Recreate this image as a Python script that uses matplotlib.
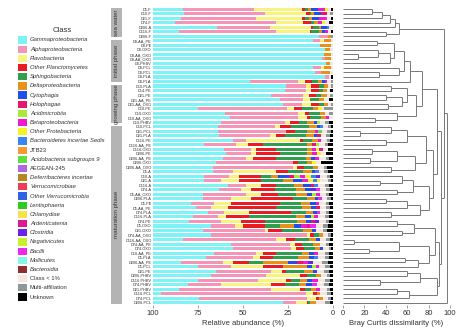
import matplotlib.pyplot as plt
from matplotlib.patches import Rectangle

plt.rcParams['font.family'] = ['Liberation Sans', 'DejaVu Sans']

# sample names, top to bottom
samples = ['D5-F', 'D10-F', 'D21-F', 'D74-F', 'D206-A', 'D116-F', 'D206-F',
           'D0-AA_PE', 'D0-PE', 'D3-OXO', 'D3-AA_OXO', 'D0-AA_OXO', 'D0-PHBV', 'D0-PCL',
           'D3-PCL', 'D3-PLA', 'D0-PLA',
           'D10-PLA', 'D14-PE', 'D21-PE', 'D21-AA_PE', 'D21-AA_OXO', 'D10-PE', 'D10-OXO',
           'D10-AA_OXO', 'D10-PHBV',
           'D10-PCL', 'D21-PCL', 'D21-PLA', 'D116-PE', 'D116-AA_PE', 'D116-OXO', 'D206-PE',
           'D206-AA_PE', 'D206-OXO', 'D206-AA_OXO', 'D5-A', 'D10-A', 'D21-A', 'D116-A',
           'D74-A', 'D5-AA_OXO', 'D206-PLA', 'D5-PE', 'D5-AA_PE', 'D74-PLA', 'D116-PLA',
           'D74-PE', 'D5-OXO', 'D21-OXO', 'D74-AA_OXO', 'D116-AA_OXO', 'D74-AA_PE', 'D74-OXO',
           'D10-AA_PE', 'D5-PLA', 'D206-AA_PE', 'D5-PCL', 'D21-PE', 'D206-PHBV', 'D116-PHBV',
           'D74-PHBV', 'D21-PHBV', 'D116-PCL', 'D74-PCL', 'D206-PCL']

phases = ['sea water', 'initial phase', 'growing phase', 'maturation phase']
phase_first = [0, 7, 17, 26]
phase_last = [6, 16, 25, 65]

# relative abundance (%) of the main classes, one value per sample
gamma = [16.4, 17.3, 15.5, 12.3, 35.6, 14.5, 92, 89, 92.7, 95.5, 95, 94, 96, 89, 90, 95.5,
         54, 74, 73.6, 65.8, 70.4, 72.3, 24.8, 40, 42.5, 37.8, 36, 36, 36.9, 44.3,
         28.5, 39.7, 40.6, 38.7, 35, 33.1, 33.1, 28.5, 28.5, 41.5, 36.9, 27.6, 27.6, 21, 23.8,
         30.4, 22, 20.1, 32.2, 27.6, 32.2, 16.4, 43.4, 44.3, 34.1, 29.4, 15.5, 24.8, 35, 32.2,
         24.8, 19.2, 14.5, 4.3, 25.7, 72.3]
alpha = [39.6, 44.7, 41.9, 55.9, 29.6, 53.7, 5, 4, 0, 0, 0, 1.5, 0, 4.5, 3.5, 2.5,
         26.6, 11, 11.4, 17.6, 13, 10.7, 49.9, 40.6, 38.1, 35.4, 31.6, 38.1, 27.9, 7.5,
         17.7, 14.9, 14, 13.1, 42.8, 44.7, 11.2, 14, 9.3, 10.3, 12.1, 24.2, 15.8, 13.1, 8.4,
         9.3, 14, 17.7, 13.1, 34.4, 53.1, 52.2, 32.6, 32.6, 23.3, 26.1, 23.2, 18.6, 30.8, 30.8,
         33.5, 18.6, 51.3, 80.6, 59.6, 7.4]
flavo = [27, 23, 25.1, 15.3, 22.8, 18.8, 0, 2, 0, 0, 0, 0, 0, 1.5, 0, 0,
         3.8, 3, 3, 3, 4, 5, 3.7, 3.9, 4.7, 2.8, 2.8, 0, 3.8, 29.8,
         6.5, 2.8, 2.8, 3.7, 0, 2, 24.3, 5.5, 10.2, 8.4, 5.6, 8.4, 11.2, 9.3, 9.3,
         13.9, 4.6, 11.2, 4.6, 1.9, 2, 5.5, 2.8, 2.8, 3.7, 3.7, 5.6, 17.7, 5.6, 18.6,
         15.8, 28, 15.8, 4, 5, 5.6]
planct = [1.5, 2, 1.9, 4, 1, 1, 0, 0, 0, 0, 0, 0, 0, 0, 0, 0,
          4, 4, 4, 4, 0, 4, 4.6, 2, 2, 5, 6.5, 4.7, 4.6, 1.8,
          8.4, 11.2, 13, 13.1, 2.8, 4, 6.5, 12.2, 12, 8.4, 13, 9.3, 23.2, 27, 27.1,
          23.3, 13, 13, 12.1, 7.5, 2, 4.7, 4.2, 4.3, 7.5, 7.5, 9.3, 11.2, 2.7, 4,
          2.8, 7.4, 3, 2, 2, 1]
sphingo = [1.5, 1, 2, 2, 3, 4, 0, 0, 0, 0, 0, 0, 0, 0, 0, 0,
           3, 3, 2.5, 3, 5, 3, 5.8, 6, 6, 4.3, 10, 7, 12, 5,
           24.2, 16.7, 14.9, 16.4, 4.7, 5, 8, 5.6, 12, 10, 12, 10, 8, 12, 14,
           8, 26.1, 18, 8.4, 12, 3, 8, 6, 6, 13.9, 14, 7.5, 0, 10, 5,
           4.7, 8, 3, 0, 0, 1]
delta = [1.5, 1.5, 2, 2, 1.5, 2, 2, 4, 6.3, 3, 4, 3.5, 2.5, 4, 5, 0,
         2.5, 2, 2, 3, 2.5, 2, 3, 3, 3, 4, 4, 4, 4, 3,
         3, 3, 3, 3, 3, 3, 5, 3.7, 6, 5, 5, 6, 4, 5, 5,
         4, 5, 5, 8, 5, 2, 4, 4, 3, 4, 6, 14, 13, 5, 3,
         4, 4, 3, 2, 2, 3]
minor = [2, 2, 2, 2.5, 2, 2, 0, 1, 1, 1.5, 1, 1, 1.5, 1, 1.5, 1,
         2, 2, 2, 2, 3, 2, 1.2, 2.5, 2.2, 3, 3, 3, 3, 3,
         3, 3, 3, 4, 3, 3, 3, 4, 4, 4, 3.5, 3.5, 3, 3.5, 3.5,
         3, 4, 4, 4, 4, 3, 3.5, 3, 3, 4, 4, 5, 3.5, 4, 3,
         4, 4, 4, 4, 3, 5]
multi = [0, 1.5, 0, 0, 0, 0, 1, 0, 0, 0, 0, 0, 0, 0, 0, 0,
         1.1, 1, 0, 1.6, 0, 1, 5, 2, 0, 2, 1.5, 2, 2, 2,
         2, 0, 0, 2, 0, 2, 2, 2, 2, 2, 2, 2, 2, 2, 2,
         2, 2, 2, 3, 2, 1.5, 2, 2, 1.5, 2, 2, 3, 2.5, 2.5, 2,
         2.5, 2.5, 2, 2, 1.5, 3]
unknown = [1, 0, 1.1, 2, 0, 1, 0, 0, 0, 0, 0, 0, 0, 0, 0, 1,
           0, 0, 1.5, 0, 2.1, 0, 0, 0, 0, 2.2, 1.1, 1.2, 1.8, 1.6,
           2.7, 2.7, 3.7, 2, 6.7, 3.2, 2.9, 1.5, 1, 2.4, 1.9, 2, 1.2, 2.1, 1.9,
           2.1, 2.3, 2, 2.6, 3.6, 1.2, 1.7, 2, 1, 2.5, 2.3, 2.9, 1.7, 2.4, 1.4,
           1.9, 2.3, 1.4, 1.1, 1.2, 1.7]

# smaller classes, {sample index: %}
cytophagia = {0: 4, 1: 4, 2: 4, 4: 3, 5: 1.5, 16: 1.5, 25: 2, 26: 2, 28: 2, 33: 2, 36: 2,
              37: 6, 38: 5, 39: 4, 40: 3, 41: 3, 42: 2, 43: 3, 44: 3, 45: 2, 46: 3, 47: 3,
              48: 4, 49: 2, 51: 2, 53: 1.5, 54: 3, 55: 3, 56: 5, 57: 3, 58: 2, 60: 3, 61: 3}
holophagae = {1: 3, 28: 2, 30: 2, 37: 3, 39: 2, 44: 2, 47: 2, 56: 3}
acidimicrobiia = {25: 1.5, 30: 2, 37: 3, 41: 2, 46: 2, 57: 2}
beta = {0: 4, 2: 3, 3: 2.5, 5: 1.5, 16: 1.5, 24: 1.5, 27: 2, 29: 2, 31: 2, 32: 3, 33: 2,
        37: 3, 38: 3, 41: 2, 43: 2, 46: 2, 48: 3, 54: 2, 56: 3, 57: 2, 60: 3, 62: 2}
other_proteo = {0: 1.5, 3: 1.5, 22: 2, 31: 2, 32: 2, 34: 2, 37: 3, 38: 3}
bis = {4: 1.5, 26: 1.5, 36: 2, 37: 3, 38: 2, 39: 2, 55: 2}
jtb23 = {}
acidobacteria = {27: 2}
aegean = {}
deferribacteres = {}
verrucomicrobiae = {}
other_verruco = {}
lentisphaeria = {}
chlamydiae = {38: 2}
ardenticatenia = {31: 2, 48: 2}
clostridia = {37: 2, 40: 3, 47: 2, 56: 3}
negativicutes = {}
bacilli = {2: 1.5, 40: 2, 42: 2, 45: 2, 48: 3, 61: 3}
mollicutes = {}
bacteroidia = {}

classes = ['Gammaproteobacteria', 'Alphaproteobacteria', 'Flavobacteria', 'Other Planctomycetes',
           'Sphingobacteria', 'Deltaproteobacteria', 'Cytophagia', 'Holophagae', 'Acidimicrobiia',
           'Betaproteobacteria', 'Other Protebacteria', 'Bacteroidetes incertae Sedis', 'JTB23',
           'Acidobacteria subgroups 9', 'AEGEAN-245', 'Deferribacteres incertae',
           'Verrucomicrobiae', 'Other Verrucomicrobia', 'Lentisphaeria', 'Chlamydiae',
           'Ardenticatenia', 'Clostridia', 'Negativicutes', 'Bacilli', 'Mollicutes',
           'Bacteroidia', 'Class < 1%', 'Multi-affiliation', 'Unknown']
colors = ['#7ef3f7', '#f494b7', '#f7f37c', '#e81c22', '#2f9f4f', '#e8921e', '#2050e8',
          '#e8156e', '#a8ea36', '#ee1ccc', '#f4f420', '#3a86f0', '#f59a30', '#5ee040',
          '#b466e0', '#b08a1e', '#f23a55', '#2e62e6', '#2ecc22', '#f4e44a', '#de1a8e',
          '#6a24e6', '#c8f02a', '#ee28ee', '#86f6e6', '#8e2e2e', '#f6e6e0', '#8f9898', '#000000']
upright = ['JTB23', 'AEGEAN-245', 'Class < 1%', 'Multi-affiliation', 'Unknown']

# Bray-Curtis clustering of the samples: (left, right, height %)
sea = (((((0, 1, 27), 2, 36), 3, 44), 4, 49), (5, 6, 40), 52)
init = ((((7, 8, 32), ((9, (10, 11, 14), 33), 12, 44), 48), (13, (14, 15, 34), 52), 57), 16, 63)
grow = (((17, 18, 45), ((19, 20, 40), (21, 22, 42), 55), 60), (23, (24, 25, 30), 50), 68)
m1 = ((26, (27, 28, 16), 45), (29, 30, 40), 60)
m2 = (((31, 32, 27), (33, 34, 25), 50), (35, 36, 45), 67)
m3 = ((37, (38, 39, 35), 55), (40, 41, 50), 65)
m4 = (((42, 43, 40), 44, 60), (45, 46, 45), 72)
m5 = ((47, 48, 50), (49, 50, 55), 66)
m6 = ((51, 52, 10), (53, 54, 24), 52)
m7 = ((55, 56, 58), 57, 70)
m8 = ((58, 59, 60), (60, 61, 35), 72)
m9 = ((62, 63, 50), 64, 62)
tree = ((sea, ((((init, grow, 74), ((m1, m2, 78), (m3, m4, 80), 84), 88),
               ((m5, (m6, m7, 80), 86), (m8, m9, 88), 90), 92)), 94), 65, 97)

series = [gamma, alpha, flavo, planct, sphingo, delta, cytophagia, holophagae, acidimicrobiia,
          beta, other_proteo, bis, jtb23, acidobacteria, aegean, deferribacteres,
          verrucomicrobiae, other_verruco, lentisphaeria, chlamydiae, ardenticatenia,
          clostridia, negativicutes, bacilli, mollicutes, bacteroidia, minor, multi, unknown]

n = len(samples)
rows = list(range(n))

fig = plt.figure(figsize=(4.74, 3.36), dpi=100)

# stacked bars, 100 % on the left
ax = fig.add_axes([153 / 474, 31 / 336, 180 / 474, 298 / 336])
start = [100.0] * n
for vals, col in zip(series, colors):
    if isinstance(vals, dict):
        vals = [vals.get(i, 0) for i in rows]
    left = [s - v for s, v in zip(start, vals)]
    ax.barh(rows, vals, left=left, height=0.68, color=col, linewidth=0)
    start = left
ax.set_xlim(100, 0)
ax.set_ylim(n - 0.5, -0.5)
ax.set_xticks([100, 75, 50, 25, 0])
ax.set_yticks(rows)
ax.set_yticklabels(samples, fontsize=2.8, color='#333333')
ax.tick_params(axis='y', length=0, pad=1)
ax.tick_params(axis='x', length=2, width=0.5, color='#777777', labelsize=5.5,
               labelcolor='#333333', pad=1.5)
for s in ax.spines.values():
    s.set_visible(False)
ax.set_xlabel('Relative abundance (%)', fontsize=5.5, color='#333333', labelpad=2)

# phase strips
pax = fig.add_axes([111 / 474, 31 / 336, 11 / 474, 298 / 336])
pax.set_xlim(0, 1)
pax.set_ylim(n - 0.5, -0.5)
pax.axis('off')
for name, a, b in zip(phases, phase_first, phase_last):
    pax.add_patch(Rectangle((0, a - 0.2), 1, b - a + 0.4, color='#b4b4b4', lw=0))
    pax.text(0.5, (a + b) / 2, name, rotation=90, ha='center', va='center',
             fontsize=4.4, color='#333333')

# dendrogram
dax = fig.add_axes([343 / 474, 31 / 336, 107 / 474, 298 / 336])
dax.set_xlim(0, 100)
dax.set_ylim(n - 0.5, -0.5)


def draw(node):
    if isinstance(node, int):
        return node, 0
    yl, hl = draw(node[0])
    yr, hr = draw(node[1])
    h = node[2]
    kw = dict(color='#777777', lw=0.7, solid_capstyle='butt', clip_on=False)
    dax.plot([hl, h], [yl, yl], **kw)
    dax.plot([hr, h], [yr, yr], **kw)
    dax.plot([h, h], [yl, yr], **kw)
    return (yl + yr) / 2, h


draw(tree)
dax.set_xticks([0, 20, 40, 60, 80, 100])
dax.set_yticks([])
dax.tick_params(axis='x', length=2, width=0.5, color='#777777', labelsize=5.5,
                labelcolor='#333333', pad=1.5)
for s in dax.spines.values():
    s.set_visible(False)
dax.set_xlabel('Bray Curtis dissimilarity (%)', fontsize=5.5, color='#333333', labelpad=2)

# legend
lax = fig.add_axes([0, 0, 1, 1], zorder=-1)
lax.set_xlim(0, 474)
lax.set_ylim(336, 0)
lax.axis('off')
lax.text(62, 30, 'Class', fontsize=5.5, ha='center', va='center', color='#333333')
for i, (name, col) in enumerate(zip(classes, colors)):
    y = 40 + 9.18 * i
    lax.add_patch(Rectangle((18, y - 3.6), 9, 7.2, color=col, lw=0))
    lax.text(30, y, name, fontsize=4.2, va='center', color='#333333',
             style='normal' if name in upright else 'italic')

fig.savefig('out.png', dpi=100)
